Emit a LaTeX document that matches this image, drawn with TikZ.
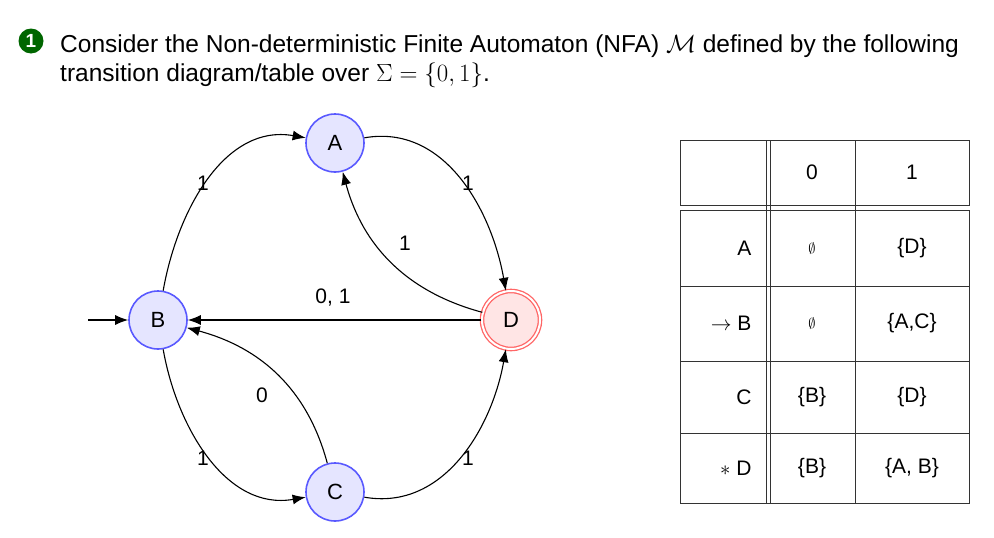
\documentclass[tikz,border=0pt]{standalone}
\usepackage{fontspec}
\setmainfont{Liberation Sans}
\usetikzlibrary{arrows.meta}
\begin{document}
\begin{tikzpicture}[x=1pt,y=-1pt,
  st/.style={circle,draw=blue!65,fill=blue!10,line width=1.6pt,minimum size=58pt,inner sep=0pt,font=\fontsize{22}{26}\selectfont},
  fin/.style={circle,draw=red!60,fill=red!10,double=white,double distance=2pt,line width=1.3pt,minimum size=58pt,inner sep=0pt,font=\fontsize{22}{26}\selectfont},
  ed/.style={-{Latex[length=13pt,width=10pt]},line width=1.1pt},
  lb/.style={font=\fontsize{21}{24}\selectfont,inner sep=0pt},
  txt/.style={anchor=base west,inner sep=0pt,font=\fontsize{24.5}{29}\selectfont},
  tl/.style={line width=0.8pt,draw=black!80},
  tc/.style={font=\fontsize{21}{24}\selectfont},
  tr/.style={tc,anchor=east}]
\useasboundingbox (0,0) rectangle (994,538);
\node[circle,fill=green!40!black,minimum size=25pt,inner sep=0pt,text=white,font=\bfseries\fontsize{19}{20}\selectfont] (bul) at (31,41) {1};
\node[txt] (t1) at (60,52) {Consider the Non-deterministic Finite Automaton (NFA) $\mathcal{M}$ defined by the following};
\node[txt] (t2) at (60,81) {transition diagram/table over $\Sigma=\{0,1\}$.};
\node[st] (A) at (335,143) {A};
\node[st] (B) at (158,320) {B};
\node[st] (C) at (335,492) {C};
\node[fin] (D) at (511,320) {D};
\coordinate (s) at (88,320);
\node[lb] (l1) at (203,183) {1};
\node[lb] (l2) at (468,183) {1};
\node[lb] (l3) at (405,243) {1};
\node[lb] (l4) at (333,298) {0, 1};
\node[lb] (l5) at (203,458) {1};
\node[lb] (l6) at (262,395) {0};
\node[lb] (l7) at (468,458) {1};
\draw[ed] (s) -- (B);
\draw[ed] (B) to[out=80,in=170] (A);
\draw[ed] (A) to[out=10,in=100] (D);
\draw[ed] (D) to[out=165,in=-75] (A);
\draw[ed] (D) -- (B);
\draw[ed] (B) to[out=-80,in=190] (C);
\draw[ed] (C) to[out=105,in=-15] (B);
\draw[ed] (C) to[out=-10,in=-100] (D);
% table
\draw[tl] (680,140) rectangle (969,205);
\draw[tl] (680,210) rectangle (969,503);
\draw[tl] (766,140) -- (766,503) (770,140) -- (770,503) (855,140) -- (855,503);
\draw[tl] (680,286) -- (969,286) (680,361) -- (969,361) (680,433) -- (969,433);
\node[tc] (h0) at (812,172) {0};
\node[tc] (h1) at (912,172) {1};
\node[tr] (ra) at (755,248) {A};
\node[tc] (a0) at (812,248) {\Large$\emptyset$};
\node[tc] (a1) at (912,248) {\{D\}};
\node[tr] (rb) at (755,323) {$\to$ B};
\node[tc] (b0) at (812,323) {\Large$\emptyset$};
\node[tc] (b1) at (912,323) {\{A,C\}};
\node[tr] (rc) at (755,397) {C};
\node[tc] (c0) at (812,397) {\{B\}};
\node[tc] (c1) at (912,397) {\{D\}};
\node[tr] (rd) at (755,468) {$*$ D};
\node[tc] (d0) at (812,468) {\{B\}};
\node[tc] (d1) at (912,468) {\{A, B\}};
\end{tikzpicture}
\end{document}
